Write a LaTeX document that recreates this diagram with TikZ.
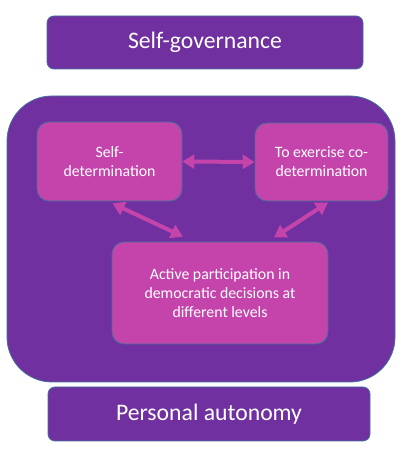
\documentclass[tikz,border=0pt]{standalone}
\usepackage{fontspec}
\setmainfont{Carlito}
\usetikzlibrary{arrows.meta}
\definecolor{darkviolet}{RGB}{112,48,160}
\definecolor{orchid}{RGB}{197,68,172}
\definecolor{edgeblue}{RGB}{65,113,156}
\begin{document}
\begin{tikzpicture}[x=1pt,y=1pt,
	levelbox/.style={draw=edgeblue,line width=0.8pt,fill=darkviolet,rounded corners=7pt,text=white,inner sep=0pt,font=\fontsize{23.7}{28}\selectfont},
	aspectbox/.style={draw=edgeblue,line width=0.8pt,fill=orchid,rounded corners=12pt,text=white,inner sep=0pt,align=center,font=\fontsize{15.8}{19}\selectfont},
	link/.style={orchid,line width=4pt,{Triangle[width=14pt,length=12pt]}-{Triangle[width=14pt,length=12pt]}}]
	\useasboundingbox (0,0) rectangle (401,450);
	% outer frame
	\draw[edgeblue,line width=0.8pt,fill=darkviolet,rounded corners=45pt] (7,68) rectangle (395,354);
	\node[levelbox,minimum width=316pt,minimum height=53pt] (gov) at (205,407.5) {Self-governance};
	\node[levelbox,minimum width=322pt,minimum height=54pt] (auto) at (209,36) {Personal autonomy};
	\node[aspectbox,minimum width=145pt,minimum height=79pt] (selfdet) at (109.5,288.5) {Self-\\determination};
	\node[aspectbox,minimum width=133pt,minimum height=78pt] (codet) at (321.5,288) {To exercise co-\\determination};
	\node[aspectbox,minimum width=216pt,minimum height=102pt] (active) at (220,157) {Active participation in\\democratic decisions at\\different levels};
	\draw[link] (selfdet.east) -- (codet.west);
	\draw[link] ([xshift=3pt,yshift=-2pt]selfdet.south) -- ([xshift=-37pt,yshift=5pt]active.north);
	\draw[link] ([xshift=6.5pt,yshift=-1pt]codet.south) -- ([xshift=54pt,yshift=4pt]active.north);
\end{tikzpicture}
\end{document}
